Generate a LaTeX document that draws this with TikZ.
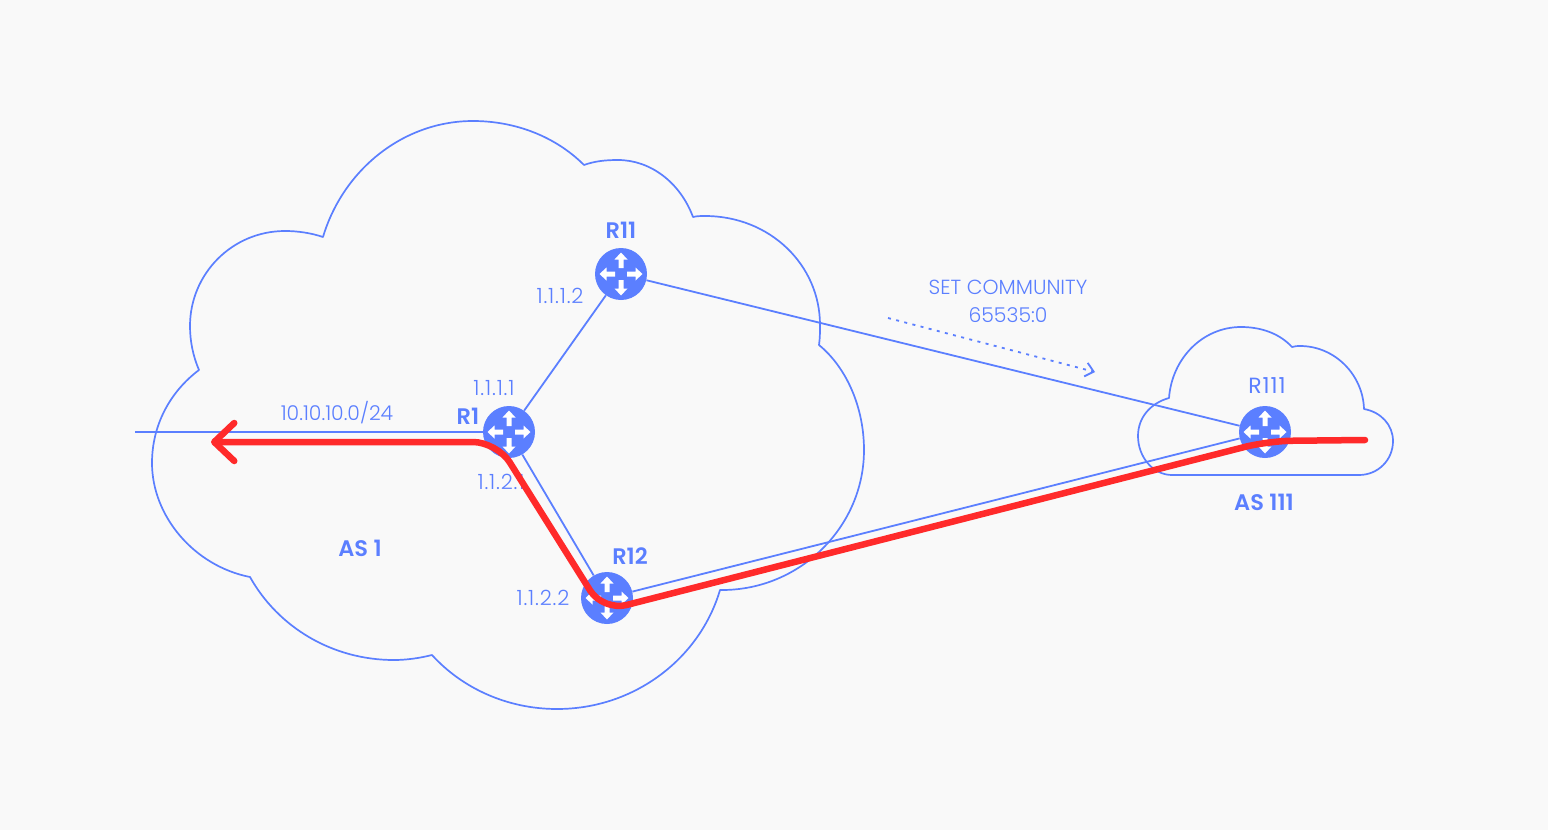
\documentclass[tikz,border=0pt]{standalone}
\usepackage{fontspec}
\setmainfont{Poppins}[UprightFont=* Light,BoldFont=* SemiBold]
\newfontfamily\ipfont{Poppins}[UprightFont=* Light,LetterSpace=4]
\newfontfamily\rfont{Poppins}[UprightFont=*,LetterSpace=4]
\usetikzlibrary{arrows.meta}
\definecolor{blu}{HTML}{5B7FFF}
\definecolor{bgc}{HTML}{F9F9F9}
\definecolor{rd}{HTML}{FF2A2A}
\tikzset{
  cloudline/.style={draw=blu,line width=1.7pt,line join=round},
  linkline/.style={draw=blu,line width=1.8pt},
  routerdisc/.style={circle,fill=blu,minimum size=52pt,inner sep=0pt},
  lbl/.style={text=blu,font=\fontsize{20.4}{24}\selectfont,inner sep=0pt},
  iplbl/.style={text=blu,font=\fontsize{21}{24}\ipfont,inner sep=0pt},
  rlbl/.style={text=blu,font=\fontsize{22}{24}\rfont,inner sep=0pt},
  blbl/.style={text=blu,font=\fontsize{22.5}{26}\selectfont\bfseries,inner sep=0pt},
  redpath/.style={draw=rd,line width=6.5pt,line cap=round,rounded corners=24pt},
}
\newcommand{\routericon}[1]{%
  \foreach \a in {0,90,180,270}{
    \fill[white,shift={(#1)},rotate=\a] (-2.5,-6) -- (2.5,-6) -- (2.5,-14.5) -- (6.5,-14.5) -- (0,-21.5) -- (-6.5,-14.5) -- (-2.5,-14.5) -- cycle;
  }}
\begin{document}
\begin{tikzpicture}[x=1pt,y=-1pt]
\useasboundingbox (0,0) rectangle (1548,830);
\fill[bgc] (0,0) rectangle (1548,830);
% AS 1 cloud
\draw[cloudline] (199,370) .. controls (193,356) and (190,341) .. (190,326)
 .. controls (190,274) and (232,231) .. (285,231)
 .. controls (298,231) and (311,233) .. (323,237)
 .. controls (343,170) and (403,121) .. (473,121)
 .. controls (516,121) and (556,137) .. (584,165)
 .. controls (595,161) and (606,160) .. (618,160)
 .. controls (650,160) and (680,182) .. (693,217)
 .. controls (697,216) and (701,216) .. (705,216)
 .. controls (770,216) and (820,265) .. (820,325)
 .. controls (820,332) and (820,338) .. (819,345)
 .. controls (847,368) and (864,408) .. (864,450)
 .. controls (864,527) and (800,590) .. (722,590)
 -- (720,590)
 .. controls (700,658) and (635,709) .. (557,709)
 .. controls (507,709) and (462,688) .. (432,655)
 .. controls (420,658) and (407,660) .. (394,660)
 .. controls (332,660) and (278,627) .. (250,577)
 .. controls (194,566) and (152,516) .. (152,463)
 .. controls (152,424) and (171,391) .. (199,370) -- cycle;
% AS 111 cloud
\draw[cloudline] (1169,398) .. controls (1172,358) and (1203,327) .. (1241,327)
 .. controls (1262,327) and (1280,334) .. (1292,347)
 .. controls (1295,346) and (1298,346) .. (1300,346)
 .. controls (1335,346) and (1363,375) .. (1364,409)
 .. controls (1381,412) and (1393,425) .. (1393,441)
 .. controls (1393,460) and (1378,475) .. (1359,475)
 -- (1172,475)
 .. controls (1153,475) and (1138,457) .. (1138,436)
 .. controls (1138,417) and (1151,403) .. (1169,398) -- cycle;
% routers
\node[routerdisc] (R1) at (509,432) {};
\node[routerdisc] (R11) at (621,274) {};
\node[routerdisc] (R12) at (607,598) {};
\node[routerdisc] (R111) at (1265,432) {};
\coordinate (west) at (135,432);
\draw[linkline] (R1) -- (west);
\draw[linkline] (R1) -- (R11);
\draw[linkline] (R1) -- (R12);
\draw[linkline] (R11) -- (R111);
\draw[linkline] (R12) -- (R111);
\routericon{R1}\routericon{R11}\routericon{R12}\routericon{R111}
% dotted arrow
\coordinate (ds) at (888,318);
\coordinate (de) at (1095,372);
\draw[blu,line width=1.8pt,dash pattern=on 3pt off 5.4pt,-{Straight Barb[length=8pt,width=14pt,line width=1.8pt]}] (ds) -- (de);
% labels
\node[blbl] (lR11) at (621,230) {R11};
\node[blbl] (lR1) at (468,416) {R1};
\node[blbl] (lR12) at (630,556) {R12};
\node[blbl] (lAS1) at (360,548) {AS 1};
\node[blbl] (lAS111) at (1264,502) {AS 111};
\node[rlbl] (lR111) at (1267,386) {R111};
\node[iplbl] (a112) at (560,296) {1.1.1.2};
\node[iplbl] (a111) at (494,388) {1.1.1.1};
\node[iplbl] (a121) at (501,482) {1.1.2.1};
\node[iplbl] (a122) at (543,598) {1.1.2.2};
\node[lbl] (net) at (337,413) {10.10.10.0/24};
\node[lbl] (sc1) at (1008,287) {SET COMMUNITY};
\node[lbl] (sc2) at (1008,315) {65535:0};
% red route
\coordinate (r0) at (1365,440);
\coordinate (r1) at (1268,441);
\coordinate (r2) at (603,611);
\coordinate (r3) at (497,442);
\coordinate (r4) at (211,442);
\draw[redpath,-{Straight Barb[round,length=20pt,width=38pt,line width=6.5pt]}] (r0) -- (r1) -- (r2) -- (r3) -- (r4);
\end{tikzpicture}
\end{document}
